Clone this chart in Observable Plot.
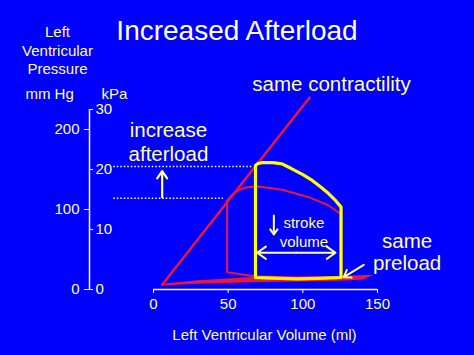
<!DOCTYPE html>
<html><head><meta charset="utf-8">
<script src="https://cdn.jsdelivr.net/npm/d3@7"></script>
<script src="https://cdn.jsdelivr.net/npm/@observablehq/plot@0.6"></script>
<style>
html,body{margin:0;padding:0;background:#0000ff;}
#wrap{position:relative;width:474px;height:355px;overflow:hidden;font-family:"Liberation Sans",Arial,sans-serif;}
#title{position:absolute;left:0;top:15px;width:474px;text-align:center;color:#ffffff;font-size:28px;line-height:32px;z-index:2;}
#chart{position:absolute;left:0;top:0;}
</style></head><body>
<div id="wrap"><div id="title">Increased Afterload</div><div id="chart"></div></div>
<script>
// ---- data (volume in ml, pressure in mm Hg) ----
const xTicks = [0, 50, 100, 150];
const mmHgTicks = [0, 100, 200];
const kPaTicks = [0, 10, 20, 30];
const MMHG_PER_KPA = 7.50062;

const espvrV = [5.8, 104.5];
const espvrP = [5.9, 240];

const edpvrV  = [5.5, 30, 65, 100, 130, 141, 147];
const edpvrLo = [4.5, 6.5, 8.5, 9.5, 10.5, 12, 17.5];
const edpvrHi = [6.5, 11, 15, 15.5, 16.5, 17.5, 17.8];

const normalV = [49.3, 49.3, 51.5, 54.9, 58.5, 62.7, 70.5, 86.2, 104, 117.4, 125.2, 125.2, 96, 67.6, 49.3];
const normalP = [21.6, 111, 116.5, 121.6, 125.5, 127.9, 128.7, 124.6, 115.4, 105, 94.6, 15, 15, 16.6, 21.6];

const afterV = [68.3, 68.3, 70, 73, 80, 86, 92, 100, 106.3, 112, 117.4, 122, 125.6, 125.6, 110, 96.4, 80, 68.3];
const afterP = [15, 155, 157.5, 158.5, 158.5, 157, 151.5, 143.5, 136.3, 128, 119.6, 111, 103, 15, 14, 13.4, 14.2, 15];

const dottedP  = [114.1, 153.75];
const dottedV1 = [-26.6, -26.6];
const dottedV2 = [46.9, 67];

const afterArrow = {v: 5.8, from: 115.4, to: 147.9};
const svDownArrow = {v: 80.6, from: 92.5, to: 68.75};
const svSpan = {p: 45.9, left: 69.4, right: 121.9};
const preloadArrow = {v1: 140.8, p1: 30.9, v2: 127.4, p2: 15.4};

const labelText = ["same contractility", "increase", "afterload", "same", "preload", "stroke", "volume",
  "Left", "Ventricular", "Pressure", "mm Hg", "kPa", "Left Ventricular Volume (ml)"];
const labelV = [119.2, 10, 10, 169.8, 169.8, 100.7, 100.7, -64.3, -64.3, -64.3, -69.6, -26.1, 74.3];
const labelP = [256, 198.75, 168.75, 60.4, 33, 82.9, 59.1, 321.25, 297.5, 275, 244, 244, -57.5];
const labelGroup = ["big", "big", "big", "big", "big", "mid", "mid", "mid", "mid", "mid", "mid", "mid", "mid"];

// ---- tables built from arrays ----
const espvr = espvrV.map((v, i) => ({v, p: espvrP[i]}));
const edpvr = edpvrV.map((v, i) => ({v, lo: edpvrLo[i], hi: edpvrHi[i]}));
const normalLoop = normalV.map((v, i) => ({v, p: normalP[i]}));
const afterLoop = afterV.map((v, i) => ({v, p: afterP[i]}));
const dotted = dottedP.map((p, i) => ({p, v1: dottedV1[i], v2: dottedV2[i]}));
const labels = labelText.map((t, i) => ({t, v: labelV[i], p: labelP[i], g: labelGroup[i]}));
const svMid = (svSpan.left + svSpan.right) / 2;
const svArrows = [{a: svMid, b: svSpan.left, p: svSpan.p}, {a: svMid, b: svSpan.right, p: svSpan.p}];

// ---- layout ----
const W = 474, H = 355;
const mLeft = 89, mBottom = 66;
const pxPerMl = 224 / 150, pxPerMmHg = 0.8;
const X_MIN = (mLeft - 153) / pxPerMl;
const X_MAX = (W - 153) / pxPerMl;
const Y_MAX = (H - mBottom) / pxPerMmHg;

const RED = "#e8173c", YEL = "#ffff00", PALE = "#ffff99", AXIS = "#ffffcc";

const plot = Plot.plot({
  width: W, height: H,
  marginLeft: mLeft, marginRight: 0, marginTop: 0, marginBottom: mBottom,
  x: {domain: [X_MIN, X_MAX]},
  y: {domain: [0, Y_MAX]},
  style: {background: "transparent", color: PALE, fontFamily: "Liberation Sans, Arial, sans-serif"},
  marks: [
    Plot.ruleY([0], {x1: xTicks[0], x2: xTicks[xTicks.length - 1], stroke: AXIS, strokeWidth: 1.5}),
    Plot.ruleX([X_MIN], {y1: 0, y2: kPaTicks[kPaTicks.length - 1] * MMHG_PER_KPA, stroke: AXIS, strokeWidth: 1.5}),
    Plot.axisX({ticks: xTicks, tickSize: 4, tickPadding: 5, fontSize: 15, label: null, stroke: AXIS}),
    Plot.axisY({anchor: "left", ticks: mmHgTicks, tickSize: 5, tickPadding: 5, fontSize: 15, label: null}),
    Plot.axisY({anchor: "left", ticks: kPaTicks.map(k => k * MMHG_PER_KPA), tickFormat: d => String(Math.round(d / MMHG_PER_KPA)),
      tickSize: -4, tickPadding: -2, textAnchor: "start", fontSize: 15, label: null}),
    Plot.ruleY(dotted, {y: "p", x1: "v1", x2: "v2", stroke: "#ffffff", strokeWidth: 1.5, strokeDasharray: "1.5,2"}),
    Plot.areaY(edpvr, {x: "v", y1: "lo", y2: "hi", fill: RED}),
    Plot.line(espvr, {x: "v", y: "p", stroke: RED, strokeWidth: 2.5}),
    Plot.line(normalLoop, {x: "v", y: "p", stroke: RED, strokeWidth: 2}),
    Plot.line(afterLoop, {x: "v", y: "p", stroke: YEL, strokeWidth: 3.2, strokeLinejoin: "round"}),
    Plot.arrow([afterArrow], {x1: "v", x2: "v", y1: "from", y2: "to", stroke: PALE, strokeWidth: 2.2, headLength: 8, headAngle: 70}),
    Plot.arrow([svDownArrow], {x1: "v", x2: "v", y1: "from", y2: "to", stroke: PALE, strokeWidth: 2, headLength: 7, headAngle: 70}),
    Plot.arrow(svArrows, {x1: "a", x2: "b", y1: "p", y2: "p", stroke: PALE, strokeWidth: 2, headLength: 8, headAngle: 70}),
    Plot.arrow([preloadArrow], {x1: "v1", y1: "p1", x2: "v2", y2: "p2", stroke: PALE, strokeWidth: 2, headLength: 7, headAngle: 70}),
    Plot.text(labels.filter(d => d.g === "big"), {x: "v", y: "p", text: "t", fill: PALE, fontSize: 20.5}),
    Plot.text(labels.filter(d => d.g === "mid"), {x: "v", y: "p", text: "t", fill: PALE, fontSize: 15})
  ]
});
document.getElementById("chart").appendChild(plot);
</script>
</body></html>
